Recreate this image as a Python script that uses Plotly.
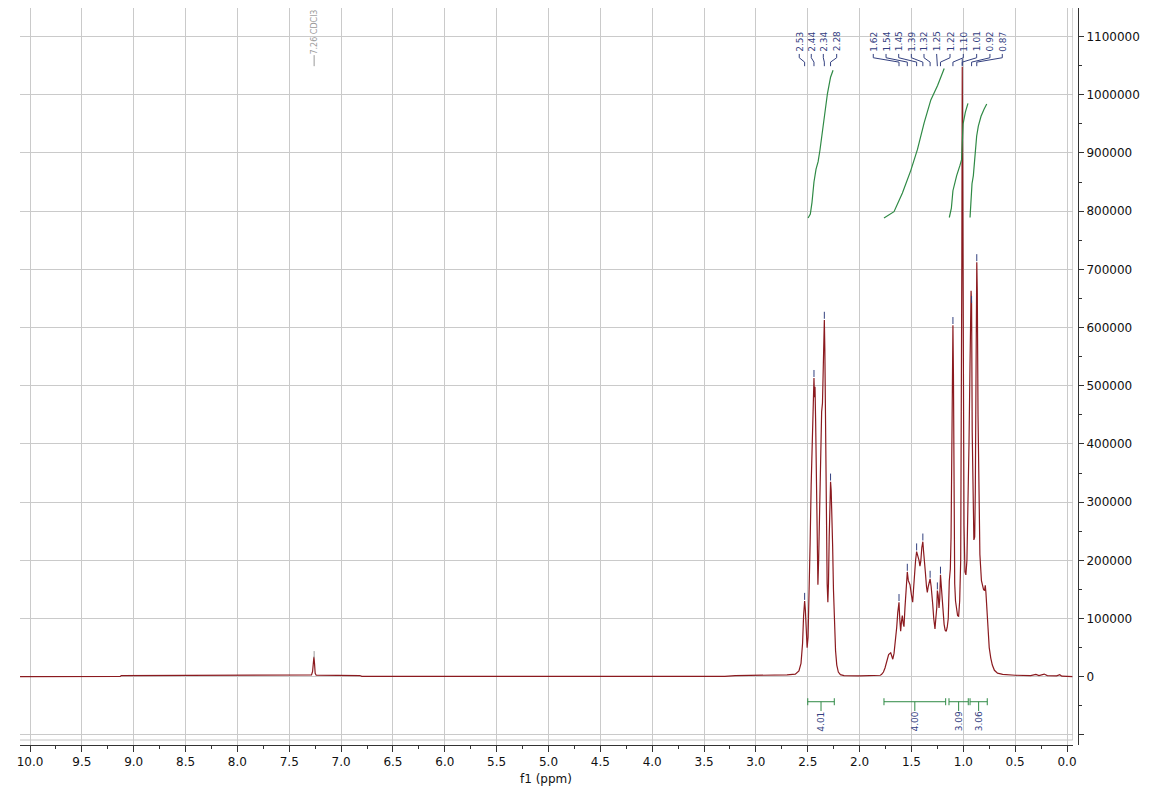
import numpy as np
import plotly.graph_objects as go

# ---------------- data ----------------
spec_ppm = [10.096, 9.60, 9.13, 9.12, 8.50, 8.00, 7.50, 7.32, 7.285, 7.275, 7.268, 7.262, 7.256, 7.25, 7.24,
            7.00, 6.82, 6.80, 5.00, 4.00, 3.30, 3.20, 2.90, 2.70, 2.62,
            2.585, 2.565, 2.55, 2.54, 2.53, 2.523, 2.515, 2.506, 2.497, 2.487, 2.477, 2.467, 2.457, 2.449,
            2.445, 2.44, 2.435, 2.43, 2.424, 2.416, 2.408, 2.402, 2.395, 2.386, 2.376, 2.366, 2.358, 2.35,
            2.34, 2.335, 2.328, 2.32, 2.313, 2.306, 2.30, 2.293, 2.286, 2.28, 2.274, 2.267, 2.26, 2.252,
            2.243, 2.232, 2.22, 2.205, 2.185, 2.15, 2.00, 1.85,
            1.80, 1.787, 1.77, 1.755, 1.74, 1.72, 1.70, 1.69, 1.68, 1.668, 1.655, 1.642, 1.632, 1.62,
            1.613, 1.604, 1.596, 1.588, 1.58, 1.572, 1.562, 1.553, 1.546, 1.54, 1.53, 1.522, 1.514, 1.50,
            1.488, 1.48, 1.472, 1.46, 1.45, 1.44, 1.427, 1.418, 1.41, 1.40, 1.39, 1.383, 1.375, 1.366,
            1.355, 1.347, 1.338, 1.32, 1.31, 1.303, 1.295, 1.285, 1.273, 1.265, 1.256, 1.25, 1.242,
            1.234, 1.227, 1.22, 1.212, 1.204, 1.195, 1.185, 1.175, 1.165, 1.155, 1.145, 1.135, 1.125,
            1.118, 1.112, 1.106, 1.10, 1.095, 1.09, 1.083, 1.075, 1.065, 1.055, 1.045, 1.035, 1.025,
            1.019, 1.014, 1.01, 1.006, 1.0, 0.993, 0.984, 0.975, 0.965, 0.955, 0.945, 0.935, 0.925,
            0.92, 0.914, 0.906, 0.898, 0.89, 0.884, 0.878, 0.87, 0.865, 0.858, 0.85, 0.84, 0.825,
            0.815, 0.805, 0.795, 0.788, 0.782, 0.775, 0.765, 0.75, 0.735, 0.72, 0.70, 0.67, 0.62,
            0.50, 0.35, 0.30, 0.27, 0.22, 0.19, 0.10, 0.07, 0.05, 0.0, -0.058]
spec_int = [0, 500, 600, 2000, 2200, 2300, 2200, 2200, 3000, 9000, 20000, 34000, 22000, 6000, 2600,
            2200, 2000, 500, 300, 400, 700, 1800, 2500, 3200, 4500,
            10000, 23000, 57000, 105000, 130000, 115000, 70000, 50000, 68000, 130000, 230000, 330000, 420000, 495000,
            505000, 513000, 480000, 498000, 440000, 310000, 180000, 158000, 200000, 300000, 400000, 455000, 470000, 560000,
            613000, 560000, 400000, 250000, 160000, 128000, 160000, 240000, 305000, 335000, 320000, 285000, 225000, 150000,
            90000, 45000, 20000, 8000, 3500, 2000, 1500, 1500,
            2500, 4000, 8000, 15000, 27000, 38000, 41000, 33000, 30000, 40000, 60000, 85000, 110000, 128000,
            100000, 78000, 95000, 105000, 92000, 86000, 120000, 150000, 172000, 180000, 165000, 160000, 158000, 140000,
            128000, 150000, 175000, 200000, 215000, 210000, 200000, 190000, 198000, 222000, 232000, 215000, 190000, 180000,
            155000, 145000, 155000, 168000, 155000, 145000, 125000, 100000, 82000, 100000, 118000, 148000, 140000,
            118000, 135000, 175000, 155000, 130000, 110000, 90000, 80000, 78000, 85000, 100000, 165000, 185000,
            240000, 380000, 560000, 604000, 520000, 300000, 160000, 130000, 115000, 105000, 104000, 130000, 200000,
            380000, 720000, 1048000, 880000, 500000, 260000, 180000, 175000, 200000, 280000, 400000, 540000, 663000,
            640000, 420000, 300000, 235000, 240000, 320000, 500000, 712000, 660000, 450000, 300000, 210000, 165000,
            155000, 150000, 148000, 157000, 145000, 120000, 78000, 50000, 32000, 20000, 11000, 6000, 4000,
            2500, 2000, 4000, 2000, 4500, 2000, 1500, 3500, 1000, 500, 0]

peak_ppm = [2.53, 2.44, 2.34, 2.28, 1.62, 1.54, 1.45, 1.39, 1.32, 1.25, 1.22, 1.10, 1.01, 0.92, 0.87]
peak_text = ["2.53", "2.44", "2.34", "2.28", "1.62", "1.54", "1.45", "1.39", "1.32", "1.25", "1.22",
             "1.10", "1.01", "0.92", "0.87"]
label_ppm = [2.582, 2.466, 2.350, 2.221, 1.868, 1.745, 1.623, 1.501, 1.379, 1.257, 1.128, 1.000,
             0.871, 0.743, 0.624]

solvent_ppm = 7.26
solvent_text = "7.26 CDCl3"

integ_from = [2.50, 1.765, 1.138, 0.935]
integ_to = [2.244, 1.170, 0.952, 0.769]
integ_text = ["4.01", "4.00", "3.09", "3.06"]

curve1_ppm = [2.497, 2.475, 2.459, 2.44, 2.42, 2.40, 2.382, 2.36, 2.34, 2.324, 2.31, 2.295, 2.28, 2.256]
curve1_val = [788000, 795000, 815000, 850000, 872000, 885000, 905000, 935000, 968000, 991000, 1002000,
              1016000, 1030000, 1042000]
curve2_ppm = [1.765, 1.668, 1.587, 1.506, 1.442, 1.377, 1.313, 1.248, 1.184]
curve2_val = [788000, 799000, 831000, 870000, 906000, 952000, 991000, 1016000, 1045000]
curve3_ppm = [1.135, 1.115, 1.100, 1.085, 1.064, 1.033, 1.017, 1.002, 0.980, 0.955]
curve3_val = [789000, 805000, 835000, 847000, 861000, 878000, 888000, 950000, 970000, 985000]
curve4_ppm = [0.935, 0.916, 0.903, 0.887, 0.871, 0.855, 0.829, 0.800, 0.774]
curve4_val = [789000, 847000, 861000, 895000, 929000, 946000, 963000, 975000, 984000]

x_ticks = [10.0, 9.5, 9.0, 8.5, 8.0, 7.5, 7.0, 6.5, 6.0, 5.5, 5.0, 4.5, 4.0, 3.5, 3.0, 2.5, 2.0, 1.5,
           1.0, 0.5, 0.0]
y_ticks = [-100000, 0, 100000, 200000, 300000, 400000, 500000, 600000, 700000, 800000, 900000,
           1000000, 1100000]
y_tick_text = ["", "0", "100000", "200000", "300000", "400000", "500000", "600000", "700000", "800000",
               "900000", "1000000", "1100000"]

# ---------------- style ----------------
FONT = "DejaVu Sans"
RED = "#8b1a1f"
GREEN = "#2f8a45"
NAVY = "#33407f"
GRAY_LBL = "#9a9a9a"
GRID = "#cacaca"
AX = "#333333"

X_RANGE = [10.0964, -0.0579]
Y_RANGE = [-117354, 1148970]
LABEL_Y = 1091400
CONN_Y = [1070000, 1063500, 1056000, 1049000]
SOLV_LABEL_Y = 1107000
SOLV_CONN = [1068000, 1049000]
BAR_Y = -43000
CAP = 6000
BAR_TICK_Y = -59000
BAR_LABEL_Y = -77300

fig = go.Figure()

# spectrum
fig.add_trace(go.Scatter(x=spec_ppm, y=spec_int, mode="lines",
                         line=dict(color=RED, width=1.2), hoverinfo="skip"))

# integral curves (on the overlaid right axis, same scale)
for cp, cv in [(curve1_ppm, curve1_val), (curve2_ppm, curve2_val),
               (curve3_ppm, curve3_val), (curve4_ppm, curve4_val)]:
    fig.add_trace(go.Scatter(x=cp, y=cv, mode="lines", yaxis="y2",
                             line=dict(color=GREEN, width=1.2), hoverinfo="skip"))

# peak picking: tick above peak tops and connectors to labels
asc_x = spec_ppm[::-1]
asc_y = spec_int[::-1]
tx, ty = [], []
for p in peak_ppm:
    h = float(np.interp(p, asc_x, asc_y))
    tx += [p, p, None]
    ty += [h + 2000, h + 14000, None]
fig.add_trace(go.Scatter(x=tx, y=ty, mode="lines", line=dict(color=NAVY, width=1), hoverinfo="skip"))

cx, cy = [], []
for p, lp in zip(peak_ppm, label_ppm):
    cx += [lp, lp, p, p, None]
    cy += [CONN_Y[0], CONN_Y[1], CONN_Y[2], CONN_Y[3], None]
fig.add_trace(go.Scatter(x=cx, y=cy, mode="lines", line=dict(color=NAVY, width=1), hoverinfo="skip"))

for lp, t in zip(label_ppm, peak_text):
    fig.add_annotation(x=lp, y=LABEL_Y, xref="x", yref="y", text=t, showarrow=False, textangle=-90,
                       font=dict(family=FONT, size=9, color=NAVY), xanchor="center", yanchor="middle")

# solvent label
hs = float(np.interp(solvent_ppm, asc_x, asc_y))
fig.add_trace(go.Scatter(x=[solvent_ppm, solvent_ppm, None, solvent_ppm, solvent_ppm],
                         y=[hs + 2000, hs + 14000, None, SOLV_CONN[0], SOLV_CONN[1]], mode="lines",
                         line=dict(color=GRAY_LBL, width=1), hoverinfo="skip"))
fig.add_annotation(x=solvent_ppm, y=SOLV_LABEL_Y, xref="x", yref="y", text=solvent_text, showarrow=False,
                   textangle=-90, font=dict(family=FONT, size=8, color=GRAY_LBL),
                   xanchor="center", yanchor="middle")

# integration bars
bx, by = [], []
for a, b in zip(integ_from, integ_to):
    m = (a + b) / 2
    bx += [a, b, None, a, a, None, b, b, None, m, m, None]
    by += [BAR_Y, BAR_Y, None, BAR_Y - CAP, BAR_Y + CAP, None, BAR_Y - CAP, BAR_Y + CAP, None,
           BAR_Y, BAR_TICK_Y, None]
fig.add_trace(go.Scatter(x=bx, y=by, mode="lines", line=dict(color=GREEN, width=1), hoverinfo="skip"))
for a, b, t in zip(integ_from, integ_to, integ_text):
    fig.add_annotation(x=(a + b) / 2, y=BAR_LABEL_Y, xref="x", yref="y", text=t, showarrow=False,
                       textangle=-90, font=dict(family=FONT, size=9, color=NAVY),
                       xanchor="center", yanchor="middle")

# plot frame lines (right and bottom borders)
fig.add_shape(type="line", xref="x", yref="y", x0=X_RANGE[0], x1=-0.056, y0=-108760, y1=-108760,
              line=dict(color="#c4c4c4", width=1))
fig.add_shape(type="line", xref="x", yref="y", x0=-0.056, x1=-0.056, y0=-108760, y1=Y_RANGE[1],
              line=dict(color="#c4c4c4", width=1))

# axis title
fig.add_annotation(x=0.4976, y=-0.046, xref="paper", yref="paper", text="f1 (ppm)", showarrow=False,
                   font=dict(family=FONT, size=12, color="#111111"), xanchor="center", yanchor="middle")

fig.update_layout(
    width=1162, height=791,
    margin=dict(l=12, r=92, t=0, b=54, pad=0),
    plot_bgcolor="white", paper_bgcolor="white", showlegend=False,
    xaxis=dict(domain=[0, 0.995274], range=X_RANGE, tickmode="array", tickvals=x_ticks,
               ticktext=[f"{v:.1f}" for v in x_ticks], ticks="outside", ticklen=6, tickcolor=AX,
               showline=True, linecolor=AX, linewidth=1, showgrid=True, gridcolor=GRID, gridwidth=1,
               zeroline=False, tickfont=dict(family=FONT, size=12, color="#111111"),
               minor=dict(tickmode="linear", tick0=0, dtick=0.25, ticks="outside", ticklen=3,
                          tickcolor=AX, showgrid=False)),
    yaxis=dict(range=Y_RANGE, tickmode="array", tickvals=y_ticks, showticklabels=False, ticks="",
               showgrid=True, gridcolor=GRID, gridwidth=1, zeroline=False, showline=False),
    yaxis2=dict(range=Y_RANGE, overlaying="y", anchor="free", position=1, side="right",
                tickmode="array", tickvals=y_ticks, ticktext=y_tick_text, ticks="outside", ticklen=5,
                tickcolor=AX, showline=True, linecolor=AX, linewidth=1, showgrid=False, zeroline=False,
                tickfont=dict(family=FONT, size=12, color="#111111"),
                minor=dict(tickmode="linear", tick0=0, dtick=50000, ticks="outside", ticklen=3,
                           tickcolor=AX, showgrid=False)),
)

fig.write_html("out.html")
